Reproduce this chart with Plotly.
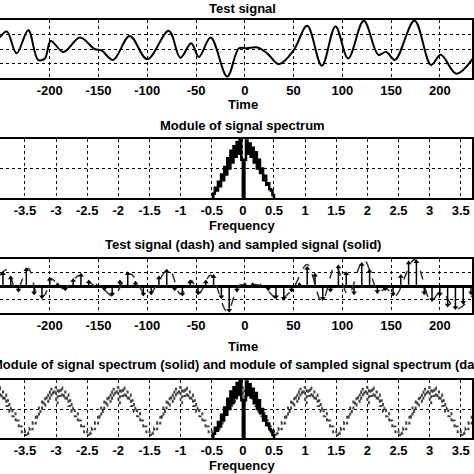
import plotly.graph_objects as go

# Test signal (time, value)
sig_t = [-251, -244, -234, -222, -212, -205, -199, -186, -169, -154, -147, -135, -118, -100, -78, -66,
         -55, -47, -35, -18, -6, 2, 13, 23, 35, 50, 64, 79, 93, 106, 122, 137, 145, 154, 174, 191,
         201, 217, 234]
sig_v = [0.8, 1.2, -0.3, 1.3, -0.75, -0.65, 0.55, -0.2, 0.8, 0.0, -0.1, -0.75, 0.9, -0.7, 1.25, -0.6,
         0.4, -0.55, 0.8, -1.9, 0.05, 0.05, 0.1, -0.3, -1.05, -0.1, 1.6, -1.15, 1.55, -0.65, 1.95, -0.4,
         -0.2, -0.75, 1.95, -1.1, -0.4, -1.7, -0.65]

# Sampled signal (time, value)
samp_t = [-248, -240, -232, -224, -216, -208, -200, -192, -184, -176, -168, -160, -152, -144, -136,
          -128, -120, -112, -104, -96, -88, -80, -72, -64, -56, -48, -40, -32, -24, -16, -8, 0, 8, 16,
          24, 32, 40, 48, 56, 64, 72, 80, 88, 96, 104, 112, 120, 128, 136, 144, 152, 160, 168, 176,
          184, 192, 200, 208, 216, 224, 232]
samp_v = [0.9, 0.6, -0.3, 1.2, -0.5, -0.8, 0.5, 0.1, -0.2, 0.4, 0.8, 0.3, 0.0, -0.2, -0.6, 0.3, 0.9,
          0.2, -0.6, -0.5, 0.6, 1.1, -0.2, -0.6, 0.3, -0.5, 0.3, 0.7, -0.8, -1.8, -0.3, 0.1, 0.1, 0.0,
          -0.2, -0.8, -0.9, -0.3, 0.1, 1.3, 0.8, -0.9, -0.3, 1.4, 0.9, -0.5, 1.6, 1.1, -0.4, -0.2, -0.6,
          0.7, 1.7, 1.8, -0.5, -1.0, -0.6, -1.4, -1.6, -1.2, -0.5]

# Module of signal spectrum (frequency, value)
spec_f = [-0.5 + 0.025 * i for i in range(41)]
spec_v = [0.0, 0.15, 0.35, 0.25, 0.55, 0.4, 0.8, 0.6, 1.05, 0.8, 1.35, 1.0, 1.6, 1.2, 1.75, 1.4, 1.9,
          1.5, 2.0, 1.3, 0.0, 1.3, 1.95, 1.5, 1.85, 1.4, 1.7, 1.2, 1.55, 1.0, 1.3, 0.85, 1.0, 0.6,
          0.75, 0.45, 0.5, 0.3, 0.25, 0.1, 0.0]

# Module of sampled signal spectrum, one period (offset, value)
per_f = [-0.5 + 0.025 * i for i in range(41)]
per_v = [0.1, 0.2, 0.15, 0.35, 0.3, 0.55, 0.5, 0.8, 0.7, 1.05, 0.9, 1.3, 1.1, 1.45, 1.25, 1.6, 1.35,
         1.7, 1.5, 1.75, 1.2, 1.7, 1.45, 1.75, 1.4, 1.6, 1.3, 1.5, 1.1, 1.3, 0.9, 1.05, 0.75, 0.85,
         0.55, 0.6, 0.35, 0.4, 0.2, 0.25, 0.1]
periods = list(range(-4, 5))

fig = go.Figure()
black = "black"

fig.add_trace(go.Scatter(x=sig_t, y=sig_v, mode="lines", line=dict(color=black, width=2, shape="spline"),
                         xaxis="x", yaxis="y"))
fig.add_trace(go.Scatter(x=spec_f, y=spec_v, mode="lines", line=dict(color=black, width=2.5, shape="hv"),
                         xaxis="x2", yaxis="y2"))

# panel 3
fig.add_trace(go.Scatter(x=sig_t, y=sig_v, mode="lines",
                         line=dict(color="#333", width=1.5, dash="dash", shape="spline"),
                         xaxis="x3", yaxis="y3"))
sx, sy = [], []
for t, v in zip(samp_t, samp_v):
    sx += [t, t, None]
    sy += [0, v, None]
fig.add_trace(go.Scatter(x=sx, y=sy, mode="lines", line=dict(color=black, width=1.5), xaxis="x3", yaxis="y3"))
fig.add_trace(go.Scatter(x=samp_t, y=samp_v, mode="markers",
                         marker=dict(color=black, size=5, symbol=["triangle-up" if v >= 0 else "triangle-down" for v in samp_v]),
                         xaxis="x3", yaxis="y3"))

# panel 4
dx, dy = [], []
for k in periods:
    for f, v in zip(per_f, per_v):
        dx.append(k + f)
        dy.append(v)
    dx.append(None); dy.append(None)
fig.add_trace(go.Scatter(x=dx, y=dy, mode="lines", line=dict(color="#444", width=2, dash="dot", shape="hv"),
                         xaxis="x4", yaxis="y4"))
fig.add_trace(go.Scatter(x=spec_f, y=spec_v, mode="lines", line=dict(color=black, width=2.5, shape="hv"),
                         xaxis="x4", yaxis="y4"))

H = 474.0
def dom(top, bot):
    return [1 - bot / H, 1 - top / H]

tfont = dict(family="Liberation Sans", size=13, color=black)
gridx = dict(showgrid=True, gridcolor=black, griddash="dot", gridwidth=1, showline=True, linecolor=black,
             linewidth=1.5, mirror=True, ticks="", tickfont=tfont, zeroline=False)
gridy = dict(showgrid=True, gridcolor=black, griddash="dot", gridwidth=1, showline=True, linecolor=black,
             linewidth=1.5, mirror=True, showticklabels=False, ticks="", zeroline=False)

time_ticks = [-250, -200, -150, -100, -50, 0, 50, 100, 150, 200]
time_text = ["<b>%d</b>" % v for v in time_ticks]
freq_ticks = [-3.5, -3, -2.5, -2, -1.5, -1, -0.5, 0, 0.5, 1, 1.5, 2, 2.5, 3, 3.5]
freq_text = ["<b>%s</b>" % s for s in ["-3.5", "-3", "-2.5", "-2", "-1.5", "-1", "-0.5", "0", "0.5", "1",
                                       "1.5", "2", "2.5", "3", "3.5"]]

fig.update_layout(
    width=474, height=474, margin=dict(l=0, r=0, t=0, b=0), showlegend=False,
    plot_bgcolor="white", paper_bgcolor="white",
    xaxis=dict(gridx, domain=[0, 1], range=[-251, 233], tickvals=time_ticks, ticktext=time_text, anchor="y"),
    yaxis=dict(gridy, domain=dom(20, 78), range=[-2, 2], tickvals=[-1, 0, 1], anchor="x"),
    xaxis2=dict(gridx, domain=[0, 1], range=[-3.9, 3.68], tickvals=freq_ticks, ticktext=freq_text, anchor="y2"),
    yaxis2=dict(gridy, domain=dom(139, 198), range=[0, 2], tickvals=[1], anchor="x2"),
    xaxis3=dict(gridx, domain=[0, 1], range=[-251, 233], tickvals=time_ticks, ticktext=time_text, anchor="y3"),
    yaxis3=dict(gridy, domain=dom(259, 313), range=[-2, 2], tickvals=[-1, 1], anchor="x3",
                zeroline=True, zerolinecolor=black, zerolinewidth=3),
    xaxis4=dict(gridx, domain=[0, 1], range=[-3.9, 3.68], tickvals=freq_ticks, ticktext=freq_text, anchor="y4"),
    yaxis4=dict(gridy, domain=dom(380, 438), range=[0, 2], tickvals=[1], anchor="x4"),
)

bold = dict(family="Liberation Sans", size=13, color=black)
texts = [("<b>Test signal</b>", 8), ("<b>Time</b>", 105), ("<b>Module of signal spectrum</b>", 126),
         ("<b>Frequency</b>", 226), ("<b>Test signal (dash) and sampled signal (solid)</b>", 244),
         ("<b>Time</b>", 346), ("<b>Module of signal spectrum (solid) and module of sampled signal spectrum (dash)</b>", 364),
         ("<b>Frequency</b>", 465)]
for txt, y in texts:
    fig.add_annotation(text=txt, x=244 / 474, y=1 - y / H, xref="paper", yref="paper",
                       showarrow=False, font=bold, xanchor="center", yanchor="middle")

fig.write_html("out.html", config={"displayModeBar": False},
               post_script="document.body.style.margin='0';document.body.style.overflow='hidden';")
